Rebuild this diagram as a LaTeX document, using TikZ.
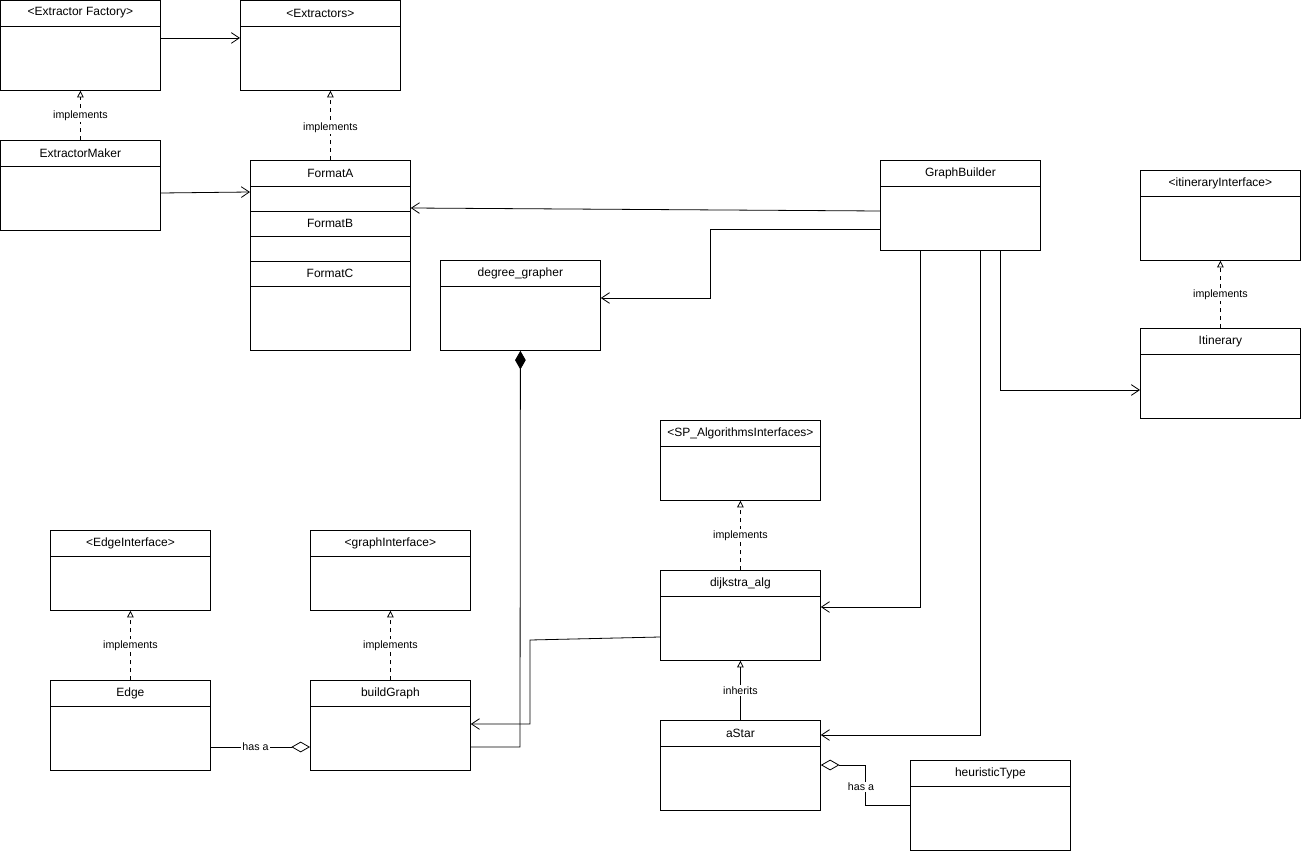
\documentclass[tikz,border=0pt]{standalone}
\usepackage{fontspec}
\setmainfont{Liberation Sans}
\usetikzlibrary{arrows.meta,calc}
\tikzset{
  cls/.style={draw,fill=white,minimum width=120pt,anchor=north west,inner sep=0pt,line width=0.6pt},
  ttl/.style={font=\fontsize{9}{10}\selectfont},
  lbl/.style={font=\fontsize{8}{9}\selectfont,fill=white,inner sep=1pt},
  con/.style={line width=0.6pt},
  assoc/.style={con,-{Straight Barb[length=6pt,width=8pt]}},
  impl/.style={con,dashed,-{Triangle[open,length=5pt,width=5pt]}},
  inh/.style={con,-{Triangle[open,length=5pt,width=5pt]}},
  aggr/.style={con,-{Diamond[open,length=14pt,width=8pt]}},
  comp/.style={con,-{Diamond[length=14pt,width=8pt]}},
}
\newcommand\cls[5]{%
  \node[cls,minimum height=#5*0.75pt] (#1) at (#2,#3) {};
  \draw[con] ($(#1.north west)+(0,26)$) -- ($(#1.north east)+(0,26)$);
  \node[ttl] at ($(#1.north)+(0,13)$) {#4};}
\begin{document}
\begin{tikzpicture}[x=0.75pt,y=-0.75pt]
\useasboundingbox[fill=white] (0,0) rectangle (1301,852);
\cls{ef}{0}{0}{<Extractor Factory>}{90}
\cls{ex}{240}{0}{<Extractors>}{90}
\cls{em}{0}{140}{ExtractorMaker}{90}
\cls{fa}{250}{160}{FormatA}{190}
\draw[con] (250,211) -- (410,211);
\draw[con] (250,236) -- (410,236);
\draw[con] (250,261) -- (410,261);
\draw[con] (250,286) -- (410,286);
\node[ttl] at (330,223) {FormatB};
\node[ttl] at (330,273) {FormatC};
\cls{gb}{880}{160}{GraphBuilder}{90}
\cls{ii}{1140}{170}{<itineraryInterface>}{90}
\cls{it}{1140}{328}{Itinerary}{90}
\cls{dg}{440}{260}{degree\_grapher}{90}
\cls{sp}{660}{420}{<SP\_AlgorithmsInterfaces>}{80}
\cls{dj}{660}{570}{dijkstra\_alg}{90}
\cls{as}{660}{720}{aStar}{90}
\cls{ht}{910}{760}{heuristicType}{90}
\cls{ei}{50}{530}{<EdgeInterface>}{80}
\cls{gi}{310}{530}{<graphInterface>}{80}
\cls{ed}{50}{680}{Edge}{90}
\cls{bg}{310}{680}{buildGraph}{90}

\draw[assoc] ($(ef.north east)+(0,38)$) -- ($(ex.north west)+(0,38)$);
\draw[impl] (em.north) -- node[lbl]{implements} (ef.south);
\draw[impl] (fa.north) -- node[lbl,pos=0.47]{implements} (ex.south -| fa.north);
\draw[assoc] ($(em.north east)+(0,53)$) -- ($(fa.north west)+(0,32)$);
\draw[assoc] ($(gb.north west)+(0,51)$) -- ($(fa.north east)+(0,48)$);
\draw[assoc] ($(gb.north west)+(0,69)$) -- (710,229) -- (710,298) -- ($(dg.north east)+(0,38)$);
\draw[assoc] ($(gb.south west)+(120,0)$) -- (1000,390) -- ($(it.north west)+(0,62)$);
\draw[impl] (it.north) -- node[lbl]{implements} (ii.south);
\draw[assoc] ($(gb.south west)+(40,0)$) -- (920,607) -- ($(dj.north east)+(0,37)$);
\draw[assoc] ($(gb.south west)+(100,0)$) -- (980,735) -- ($(as.north east)+(0,15)$);
\draw[impl] (dj.north) -- node[lbl]{implements} (sp.south);
\draw[inh] (as.north) -- node[lbl]{inherits} (dj.south);
\draw[aggr] ($(ht.north west)+(0,45)$) -- (865,805) -- (865,765) -- ($(as.north east)+(0,45)$);
\node[lbl] at (861,787) {has a};
\draw[comp] ($(bg.north east)+(0,67)$) -- (520,747) -- (dg.south);
\draw[assoc] ($(dj.north west)+(0,67)$) -- (530,640) -- (530,724) -- ($(bg.north east)+(0,44)$);
\draw[aggr] ($(ed.north east)+(0,67)$) -- node[lbl,pos=0.45]{has a} ($(bg.north west)+(0,67)$);
\draw[impl] (ed.north) -- node[lbl]{implements} (ei.south);
\draw[impl] (bg.north) -- node[lbl]{implements} (gi.south);
\end{tikzpicture}
\end{document}
